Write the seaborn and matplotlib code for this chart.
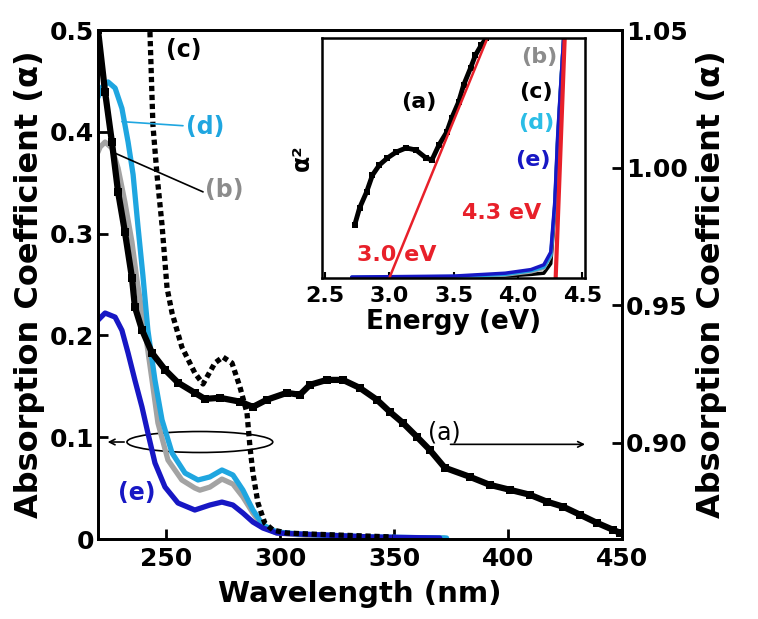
import matplotlib
matplotlib.use('Agg')
import matplotlib.pyplot as plt
from matplotlib.patches import Arc
import seaborn as sns

# curve (a), right axis
wl_a = [220.0, 223.1, 226.1, 228.8, 231.8, 234.9, 236.2, 239.3, 243.7, 249.4, 255.1, 262.5,
        266.9, 273.5, 282.3, 288.0, 294.1, 302.9, 308.6, 313.0, 320.4, 327.5, 334.9, 342.4,
        348.1, 353.8, 359.9, 365.6, 372.2, 383.2, 391.9, 400.7, 409.5, 416.9, 424.0, 431.4,
        438.9, 445.9, 449.0]
abs_a = [1.0500, 1.0275, 1.0093, 0.9912, 0.9767, 0.9600, 0.9494, 0.9411, 0.9327, 0.9266,
         0.9219, 0.9182, 0.9160, 0.9164, 0.9150, 0.9131, 0.9157, 0.9182, 0.9175, 0.9211,
         0.9229, 0.9229, 0.9200, 0.9157, 0.9113, 0.9073, 0.9023, 0.8975, 0.8910, 0.8877,
         0.8848, 0.8830, 0.8812, 0.8787, 0.8769, 0.8740, 0.8710, 0.8685, 0.8674]

# curve (c), dotted, left axis
wl_c = [242.8, 244.1, 245.9, 248.1, 250.3, 252.5, 256.8, 262.5, 266.1, 271.3, 274.8, 278.8,
        282.3, 285.4, 286.7, 288.0, 290.2, 293.2, 296.8, 302.9, 313.0, 349.4]
abs_c = [0.498, 0.4067, 0.3576, 0.3084, 0.2466, 0.222, 0.1886, 0.1631, 0.1523, 0.1729,
         0.1788, 0.1729, 0.1493, 0.1238, 0.0904, 0.0648, 0.0354, 0.0157, 0.0088, 0.0059,
         0.0049, 0.002]

# curve (d)
wl_d = [220.0, 221.8, 224.4, 227.5, 230.5, 233.2, 235.4, 237.5, 239.7, 241.9, 245.0, 248.1,
        252.5, 258.2, 263.9, 269.1, 274.4, 279.2, 283.6, 288.0, 292.4, 298.5, 308.6, 340.0,
        373.0]
abs_d = [0.434, 0.444, 0.449, 0.443, 0.423, 0.390, 0.358, 0.308, 0.259, 0.205, 0.156, 0.117,
         0.0845, 0.0648, 0.058, 0.061, 0.0678, 0.0629, 0.0481, 0.0285, 0.0138, 0.0069, 0.0049,
         0.002, 0.001]

# curve (b)
wl_b = [220.0, 220.9, 223.1, 226.1, 228.8, 231.8, 234.9, 237.1, 240.6, 243.7, 246.3, 250.7,
        256.8, 262.5, 264.7, 269.1, 274.4, 279.2, 283.6, 288.0, 292.4, 298.5, 320.0, 372.0]
abs_b = [0.380, 0.385, 0.390, 0.384, 0.3644, 0.331, 0.2917, 0.2544, 0.2053, 0.1562, 0.114,
         0.0776, 0.058, 0.0501, 0.048, 0.051, 0.0589, 0.054, 0.0413, 0.0255, 0.0118, 0.0059,
         0.002, 0.001]

# curve (e)
wl_e = [220.0, 223.1, 227.5, 230.5, 233.2, 236.2, 239.3, 241.9, 245.0, 249.4, 255.1, 262.5,
        269.1, 274.4, 279.2, 283.6, 288.0, 292.4, 298.5, 308.6, 340.0, 370.0]
abs_e = [0.215, 0.222, 0.218, 0.205, 0.1827, 0.156, 0.1297, 0.1041, 0.0747, 0.0511, 0.0354,
         0.0285, 0.0334, 0.0363, 0.0334, 0.0255, 0.0167, 0.0108, 0.0059, 0.0049, 0.002, 0.001]

# inset: alpha^2 vs energy (normalised)
en_a = [2.731, 2.769, 2.823, 2.869, 2.923, 2.985, 3.054, 3.131, 3.208, 3.285, 3.331, 3.385,
        3.446, 3.485, 3.538, 3.577, 3.631, 3.669, 3.715, 3.754]
sq_a = [0.221, 0.292, 0.358, 0.429, 0.471, 0.500, 0.525, 0.542, 0.533, 0.500, 0.492, 0.554,
        0.608, 0.667, 0.733, 0.804, 0.875, 0.929, 0.971, 1.000]
en_bcde = [2.708, 3.5, 3.9, 4.1, 4.2, 4.254, 4.285, 4.308, 4.331, 4.354]
sq_b = [0.002, 0.005, 0.012, 0.025, 0.040, 0.090, 0.300, 0.580, 0.800, 1.0]
sq_c = [0.001, 0.003, 0.008, 0.015, 0.020, 0.060, 0.280, 0.570, 0.790, 1.0]
sq_d = [0.003, 0.006, 0.015, 0.030, 0.045, 0.095, 0.305, 0.590, 0.800, 1.0]
sq_e = [0.004, 0.008, 0.020, 0.035, 0.055, 0.108, 0.317, 0.596, 0.804, 1.0]
fit_a_en = [3.0, 3.762]
fit_a_sq = [0.0, 1.0]
fit_b_en = [4.292, 4.362]
fit_b_sq = [0.0, 1.0]

c_b = '#a3a3a3'
c_d = '#1fa6e0'
c_e = '#1717c4'
c_red = '#e8202a'

sns.set_style('ticks')
plt.rcParams['font.family'] = ['DejaVu Sans']
plt.rcParams['font.weight'] = 'bold'
plt.rcParams['axes.labelweight'] = 'bold'
plt.rcParams['axes.labelcolor'] = 'black'
plt.rcParams['text.color'] = 'black'

fig = plt.figure(figsize=(7.58, 6.19), dpi=100)
ax = fig.add_axes([0.1293, 0.1292, 0.6913, 0.8223])
ax2 = ax.twinx()

sns.lineplot(x=wl_b, y=abs_b, ax=ax, color=c_b, lw=3.8, sort=False)
sns.lineplot(x=wl_d, y=abs_d, ax=ax, color=c_d, lw=3.8, sort=False)
sns.lineplot(x=wl_e, y=abs_e, ax=ax, color=c_e, lw=3.8, sort=False)
sns.lineplot(x=wl_c, y=abs_c, ax=ax, color='black', lw=3.8, sort=False,
             linestyle=(0, (1.0, 0.7)))
sns.lineplot(x=wl_a, y=abs_a, ax=ax2, color='black', lw=4.5, sort=False,
             marker='s', markersize=6, markeredgewidth=0)

ax.set_xlim(220, 450)
ax.set_ylim(0, 0.5)
ax2.set_ylim(0.8651, 1.05)
ax.set_xticks([250, 300, 350, 400, 450])
ax.set_yticks([0, 0.1, 0.2, 0.3, 0.4, 0.5])
ax.set_yticklabels(['0', '0.1', '0.2', '0.3', '0.4', '0.5'])
ax2.set_yticks([0.90, 0.95, 1.00, 1.05])
ax2.set_yticklabels(['0.90', '0.95', '1.00', '1.05'])

for a in (ax, ax2):
    for s in a.spines.values():
        s.set_linewidth(2.0)
        s.set_color('black')
    a.tick_params(direction='in', length=7, width=2, labelsize=18, colors='black', pad=3)
    a.grid(False)
ax.tick_params(axis='x', pad=6)

ax.set_xlabel('Wavelength (nm)', fontsize=21, labelpad=6, color='black')
ax.set_ylabel('Absorption Coefficient (α)', fontsize=23, labelpad=3, color='black')
ax2.set_ylabel('Absorption Coefficient (α)', fontsize=23, labelpad=6, color='black')

# annotations on main plot
ax.text(257.5, 0.480, '(c)', fontsize=17, ha='center', va='center', color='black')
ax.text(266.9, 0.405, '(d)', fontsize=17, ha='center', va='center', color=c_d)
ax.plot([230.5, 257.3], [0.410, 0.406], color=c_d, lw=1.2)
ax.text(275.3, 0.343, '(b)', fontsize=17, ha='center', va='center', color='#8c8c8c')
ax.plot([227.5, 266.1], [0.379, 0.341], color='black', lw=1.2)
ax.text(237.1, 0.045, '(e)', fontsize=17, ha='center', va='center', color=c_e)
ax.text(372.2, 0.105, '(a)', fontsize=17, ha='center', va='center', color='black',
        fontweight='normal')
ax.annotate('', xy=(435.0, 0.093), xytext=(373.5, 0.093),
            arrowprops=dict(arrowstyle='->', color='black', lw=1.2))
ax.add_patch(Arc((264.7, 0.0953), 64, 0.0206, theta1=99, theta2=441.7, color='black', lw=1.2))
ax.annotate('', xy=(223.0, 0.0953), xytext=(232.7, 0.0953),
            arrowprops=dict(arrowstyle='->', color='black', lw=1.2))

# inset
axi = fig.add_axes([0.4248, 0.5509, 0.347, 0.3877])
sns.lineplot(x=en_a, y=sq_a, ax=axi, color='black', lw=3.5, sort=False,
             marker='s', markersize=5, markeredgewidth=0)
sns.lineplot(x=en_bcde, y=sq_c, ax=axi, color='black', lw=2.5, sort=False)
sns.lineplot(x=en_bcde, y=sq_b, ax=axi, color=c_b, lw=2.5, sort=False)
sns.lineplot(x=en_bcde, y=sq_d, ax=axi, color=c_d, lw=2.5, sort=False)
sns.lineplot(x=en_bcde, y=sq_e, ax=axi, color=c_e, lw=2.5, sort=False)
sns.lineplot(x=fit_a_en, y=fit_a_sq, ax=axi, color=c_red, lw=1.8, sort=False)
sns.lineplot(x=fit_b_en, y=fit_b_sq, ax=axi, color=c_red, lw=3.0, sort=False)
axi.set_xlim(2.477, 4.52)
axi.set_ylim(0, 1.0)
axi.set_xticks([2.5, 3.0, 3.5, 4.0, 4.5])
axi.set_xticklabels(['2.5', '3.0', '3.5', '4.0', '4.5'])
axi.set_yticks([])
for s in axi.spines.values():
    s.set_linewidth(1.8)
    s.set_color('black')
axi.tick_params(axis='x', direction='in', length=4, width=1.5, labelsize=16, pad=6,
                colors='black')
axi.set_xlabel('Energy (eV)', fontsize=19, labelpad=2, color='black')
axi.set_ylabel('α²', fontsize=17, labelpad=6, color='black')

axi.text(3.231, 0.733, '(a)', fontsize=16, ha='center', va='center', color='black')
axi.text(4.167, 0.921, '(b)', fontsize=16, ha='center', va='center', color='#8c8c8c')
axi.text(4.14, 0.775, '(c)', fontsize=16, ha='center', va='center', color='black')
axi.text(4.14, 0.646, '(d)', fontsize=16, ha='center', va='center', color='#2bbde6')
axi.text(4.115, 0.49, '(e)', fontsize=16, ha='center', va='center', color=c_e)
axi.text(3.869, 0.271, '4.3 eV', fontsize=16, ha='center', va='center', color=c_red)
axi.text(3.058, 0.096, '3.0 eV', fontsize=16, ha='center', va='center', color=c_red)

fig.savefig('out.png', dpi=100)
